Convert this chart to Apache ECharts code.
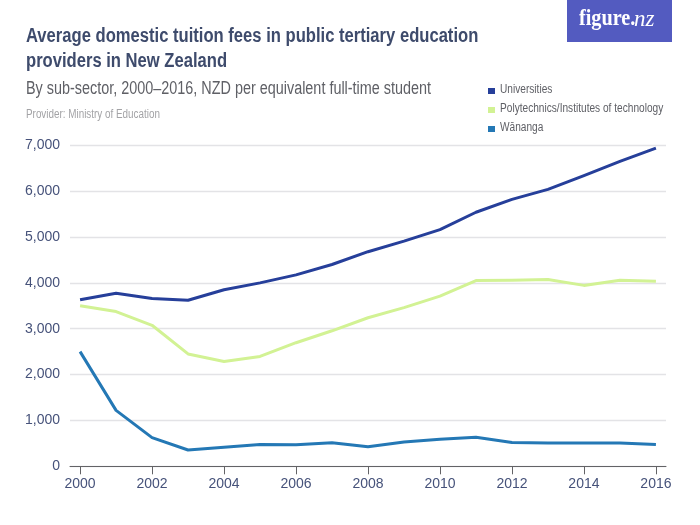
<!DOCTYPE html>
<html><head><meta charset="utf-8">
<style>html,body{margin:0;padding:0;background:#fff}#c{width:700px;height:525px}</style>
<script src="https://cdn.jsdelivr.net/npm/echarts@6/dist/echarts.min.js"></script></head>
<body><div id="c"></div>
<script>
const years=[2000,2001,2002,2003,2004,2005,2006,2007,2008,2009,2010,2011,2012,2013,2014,2015,2016];
const xTicks=[2000,2002,2004,2006,2008,2010,2012,2014,2016];
const seriesNames=['Universities','Polytechnics/Institutes of technology','Wānanga'];
const seriesColors=['#263f9a','#d2f294','#2478b5'];
const universities=[3630,3775,3660,3620,3850,4000,4175,4400,4680,4910,5160,5540,5820,6040,6340,6650,6940];
const polytechnics=[3500,3375,3075,2450,2285,2395,2695,2955,3240,3460,3710,4050,4055,4075,3945,4055,4035];
const wananga=[2500,1220,625,355,415,475,470,515,425,530,590,635,520,510,510,510,475];
const FONT='"Liberation Sans",sans-serif';
const pairs=a=>a.map((v,i)=>[years[i],v]);
const line=(i,data)=>({name:seriesNames[i],type:'line',data:pairs(data),symbol:'none',smooth:false,
  lineStyle:{color:seriesColors[i],width:3,cap:'butt',join:'round'},itemStyle:{color:seriesColors[i]}});
const txt=(text,x,y,size,color,sx,weight)=>({type:'text',x,y,scaleX:sx,silent:true,
  style:{text,fontFamily:FONT,fontSize:size,fontWeight:weight||'normal',fill:color}});
const legendItems=seriesNames.flatMap((n,i)=>[
  {type:'rect',shape:{x:488,y:88+19*i,width:7,height:6},style:{fill:seriesColors[i]},silent:true},
  txt(n,500,83+19*i,12.5,'#5f6066',.81)
]);
const chart=echarts.init(document.getElementById('c'),null,{renderer:'canvas'});
chart.setOption({
  animation:false,backgroundColor:'#fff',
  grid:{left:70,right:34,top:145.3,height:321,containLabel:false},
  xAxis:{type:'value',min:1999.72,max:2016.28,
    splitLine:{show:false},
    axisLine:{show:true,onZero:false,lineStyle:{color:'#636366',width:1}},
    axisTick:{show:true,customValues:xTicks,length:8,lineStyle:{color:'#636366',width:1}},
    axisLabel:{customValues:xTicks,formatter:v=>String(v),fontFamily:FONT,fontSize:14,color:'#46527a',margin:11,hideOverlap:false}},
  yAxis:{type:'value',min:0,max:7000,interval:1000,
    axisLine:{show:false},axisTick:{show:false},
    splitLine:{lineStyle:{color:'#e3e3e6',width:1.3}},
    axisLabel:{fontFamily:FONT,fontSize:14,color:'#46527a',margin:10,formatter:v=>v.toLocaleString('en-US')}},
  series:[line(0,universities),line(1,polytechnics),line(2,wananga)],
  graphic:[
    txt('Average domestic tuition fees in public tertiary education',26,26,20,'#3e4b6c',.83,'bold'),
    txt('providers in New Zealand',26,51,20,'#3e4b6c',.83,'bold'),
    txt('By sub-sector, 2000–2016, NZD per equivalent full-time student',26,80,18,'#5f6066',.8),
    txt('Provider: Ministry of Education',26,108,12.5,'#a3a3a6',.79),
    ...legendItems,
    {type:'rect',shape:{x:567,y:0,width:105,height:42},style:{fill:'#535bc0'},silent:true},
    {type:'text',x:579,y:8,scaleX:.88,silent:true,style:{text:'figure.',fontFamily:'"Liberation Serif",serif',fontSize:23,fontWeight:'bold',fill:'#fff'}},
    {type:'text',x:634,y:8,silent:true,style:{text:'nz',fontFamily:'"Liberation Serif",serif',fontSize:23,fontStyle:'italic',fill:'#fff'}}
  ]
});
</script></body></html>
